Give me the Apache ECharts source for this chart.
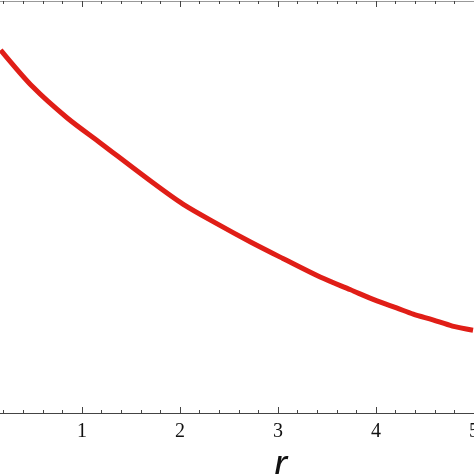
<!DOCTYPE html>
<html>
<head>
<meta charset="utf-8">
<style>
  html, body { margin: 0; padding: 0; background: #fff; }
  #chart { width: 474px; height: 474px; }
</style>
<script src="https://cdn.jsdelivr.net/npm/echarts@6/dist/echarts.min.js"></script>
</head>
<body>
<div id="chart"></div>
<script>
// curve (r, value)
const rValues = [0.17, 0.5, 0.85, 1.19, 1.7, 2.03, 2.38, 2.72, 3.05, 3.43, 3.74, 4.01, 4.21, 4.38, 4.58, 4.78, 4.99];
const curveValues = [0.881, 0.791, 0.716, 0.655, 0.563, 0.507, 0.459, 0.415, 0.375, 0.330, 0.299, 0.272, 0.255, 0.240, 0.226, 0.211, 0.201];
const xTicks = [0, 1, 2, 3, 4, 5];

const axisColor = '#444';
const chart = echarts.init(document.getElementById('chart'));

chart.setOption({
  animation: false,
  grid: { left: -16, right: 0, top: 1, bottom: 61, outerBoundsMode: 'none', containLabel: false },
  xAxis: [{
    type: 'value',
    position: 'bottom',
    min: xTicks[0],
    max: xTicks[xTicks.length - 1],
    interval: 1,
    name: 'r',
    nameLocation: 'middle',
    nameGap: 31,
    // visible part of the plot is offset, so nudge the name under r = 3
    nameTextStyle: { fontFamily: 'Liberation Sans', fontStyle: 'italic', fontSize: 40, color: '#111', padding: [0, 0, 0, 103] },
    axisLine: { lineStyle: { color: axisColor, width: 1.2 } },
    axisTick: { inside: true, length: 6, lineStyle: { color: axisColor } },
    minorTick: { show: true, splitNumber: 5, length: 3, lineStyle: { color: axisColor } },
    axisLabel: { fontFamily: 'Liberation Serif', fontSize: 20, color: '#111', margin: 9, showMaxLabel: true, showMinLabel: false },
    splitLine: { show: false }
  }, {
    type: 'value',
    position: 'top',
    min: xTicks[0],
    max: xTicks[xTicks.length - 1],
    interval: 1,
    axisLine: { lineStyle: { color: '#999', width: 1.2 } },
    axisTick: { inside: true, length: 6, lineStyle: { color: axisColor } },
    minorTick: { show: true, splitNumber: 5, length: 3, lineStyle: { color: axisColor } },
    axisLabel: { show: false },
    splitLine: { show: false }
  }],
  yAxis: {
    type: 'value',
    min: 0,
    max: 1,
    show: false
  },
  series: [{
    type: 'line',
    data: rValues.map((r, i) => [r, curveValues[i]]),
    smooth: 0.3,
    showSymbol: false,
    clip: false,
    lineStyle: { color: '#e01e17', width: 5 }
  }]
});
</script>
</body>
</html>
